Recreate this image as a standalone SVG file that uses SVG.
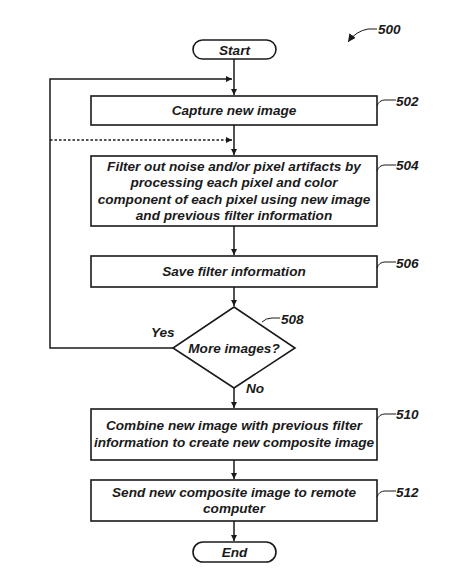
<svg xmlns="http://www.w3.org/2000/svg" width="474" height="577" viewBox="0 0 474 577">
<style>
.b{fill:#fff;stroke:#1a1a1a;stroke-width:1.6}
.t{font-family:"Liberation Sans",Arial,sans-serif;font-weight:bold;font-style:italic;font-size:13.6px;fill:#1a1a1a;text-anchor:middle}
.n{font-family:"Liberation Sans",Arial,sans-serif;font-weight:bold;font-style:italic;font-size:13.6px;fill:#1a1a1a}
.c{fill:none;stroke:#1a1a1a;stroke-width:1.5}
.d{stroke-dasharray:2.5,2}
.l{fill:none;stroke:#1a1a1a;stroke-width:1}
</style>
<defs>
<marker id="a" viewBox="0 0 10 10" refX="10" refY="5" markerWidth="6" markerHeight="6" orient="auto" markerUnits="userSpaceOnUse"><path d="M0,0 L10,5 L0,10 z" fill="#1a1a1a"/></marker>
<marker id="s" viewBox="0 0 10 10" refX="10" refY="5" markerWidth="8" markerHeight="8" orient="auto" markerUnits="userSpaceOnUse"><path d="M0,0 L10,5 L0,10 z" fill="#1a1a1a"/></marker>
</defs>
<g id="connectors">
<path class="c" d="M234,59 V95" marker-end="url(#a)"/>
<path class="c" d="M234,125 V155" marker-end="url(#a)"/>
<path class="c" d="M234,226 V255" marker-end="url(#a)"/>
<path class="c" d="M234,287 V306" marker-end="url(#a)"/>
<path class="c" d="M173,348 H50 V79 H232" marker-end="url(#a)"/>
<path class="c d" d="M50,140 H232" marker-end="url(#a)"/>
<path class="c" d="M234,388 V408" marker-end="url(#a)"/>
<path class="c" d="M234,460 V479" marker-end="url(#a)"/>
<path class="c" d="M234,521 V541" marker-end="url(#a)"/>
</g>
<g id="start"><rect class="b" x="193" y="40" width="83" height="19" rx="9.5"/><text class="t" x="234.5" y="55">Start</text></g>
<g id="n502"><rect class="b" x="91" y="96" width="286" height="29"/><text class="t" x="234" y="115">Capture new image</text>
<path class="l" d="M377,106 Q379,100 385,100 H396"/><text class="n" x="396" y="106">502</text></g>
<g id="n504"><rect class="b" x="91" y="156" width="286" height="70"/>
<text class="t" x="234" y="171">Filter out noise and/or pixel artifacts by</text>
<text class="t" x="234" y="187">processing each pixel and color</text>
<text class="t" x="234" y="204">component of each pixel using new image</text>
<text class="t" x="234" y="220">and previous filter information</text>
<path class="l" d="M377,171 Q379,165 385,165 H396"/><text class="n" x="396" y="170">504</text></g>
<g id="n506"><rect class="b" x="91" y="256" width="286" height="31"/><text class="t" x="234" y="276">Save filter information</text>
<path class="l" d="M377,268 Q379,262 385,262 H396"/><text class="n" x="396" y="268">506</text></g>
<g id="n508"><path class="b" d="M234,307 L295,348 L234,388 L173,348 Z"/><text class="t" x="234" y="353">More images?</text>
<path class="l" d="M262,322 Q266,318 272,318 H280"/><text class="n" x="281" y="324">508</text>
<text class="n" x="151" y="337">Yes</text><text class="n" x="246" y="393">No</text></g>
<g id="n510"><rect class="b" x="91" y="409" width="286" height="51"/>
<text class="t" x="234" y="430">Combine new image with previous filter</text>
<text class="t" x="234" y="447">information to create new composite image</text>
<path class="l" d="M377,420 Q379,414 385,414 H396"/><text class="n" x="396" y="419">510</text></g>
<g id="n512"><rect class="b" x="91" y="480" width="286" height="41"/>
<text class="t" x="234" y="497">Send new composite image to remote</text>
<text class="t" x="234" y="513">computer</text>
<path class="l" d="M377,497 Q379,491 385,491 H396"/><text class="n" x="396" y="497">512</text></g>
<g id="end"><rect class="b" x="193" y="542" width="83" height="20" rx="10"/><text class="t" x="234.5" y="557">End</text></g>
<g id="ref500"><path class="l" d="M377,29 H368 Q356,31 348,42" marker-end="url(#s)"/><text class="n" x="378" y="34">500</text></g>
</svg>
